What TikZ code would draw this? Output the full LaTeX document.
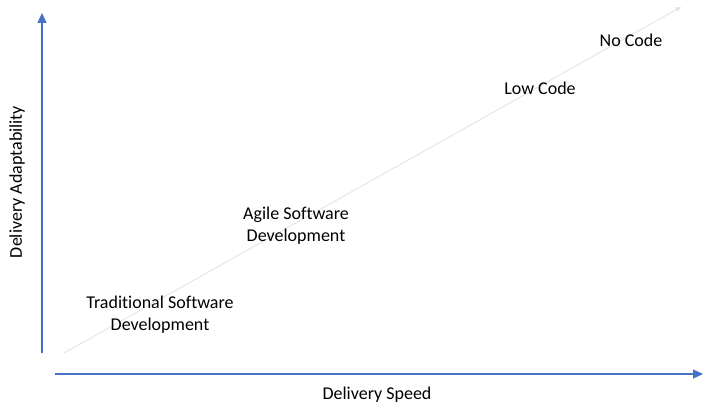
\documentclass[tikz,border=0pt]{standalone}
\usepackage{fontspec}
\setmainfont{Carlito}[Ligatures=NoCommon]
\usepackage{xcolor}
\usetikzlibrary{positioning,arrows.meta}
\definecolor{AxisBlue}{RGB}{68,114,196}
\definecolor{TrendGray}{RGB}{225,225,225}
\tikzset{
    axisline/.style={draw=AxisBlue, line width=1.2pt, -{Triangle[width=9pt,length=10pt]}},
    trendline/.style={draw=TrendGray, line width=0.8pt, -{Stealth[length=6pt,width=5pt]}},
    stagelabel/.style={align=center, font=\fontsize{18}{22}\selectfont, inner sep=0pt},
    axislabel/.style={font=\fontsize{18}{22}\selectfont, inner sep=0pt}
}

\begin{document}
\begin{tikzpicture}[x=1pt, y=-1pt]
    \useasboundingbox (0,0) rectangle (720,417);

    % --- TRUC TOA DO ---
    \coordinate (ybot) at (42,353);
    \coordinate (ytop) at (42,13);
    \coordinate (xleft) at (55,374);
    \coordinate (xright) at (703,374);
    \draw[axisline] (ybot) -- (ytop);
    \draw[axisline] (xleft) -- (xright);

    % --- DUONG XU HUONG ---
    \coordinate (tstart) at (64,353);
    \coordinate (tend) at (681,7);
    \draw[trendline] (tstart) -- (tend);

    % --- NHAN TRUC ---
    \node[axislabel] (speed) at (377,395) {Delivery Speed};
    \node[axislabel, rotate=90] (adapt) at (17,182) {Delivery Adaptability};

    % --- CAC GIAI DOAN ---
    \node[stagelabel] (trad) at (160,315) {Traditional Software\\Development};
    \node[stagelabel] (agile) at (296,226) {Agile Software\\Development};
    \node[stagelabel] (low) at (540,88) {Low Code};
    \node[stagelabel] (nocode) at (631,40) {No Code};

\end{tikzpicture}
\end{document}
